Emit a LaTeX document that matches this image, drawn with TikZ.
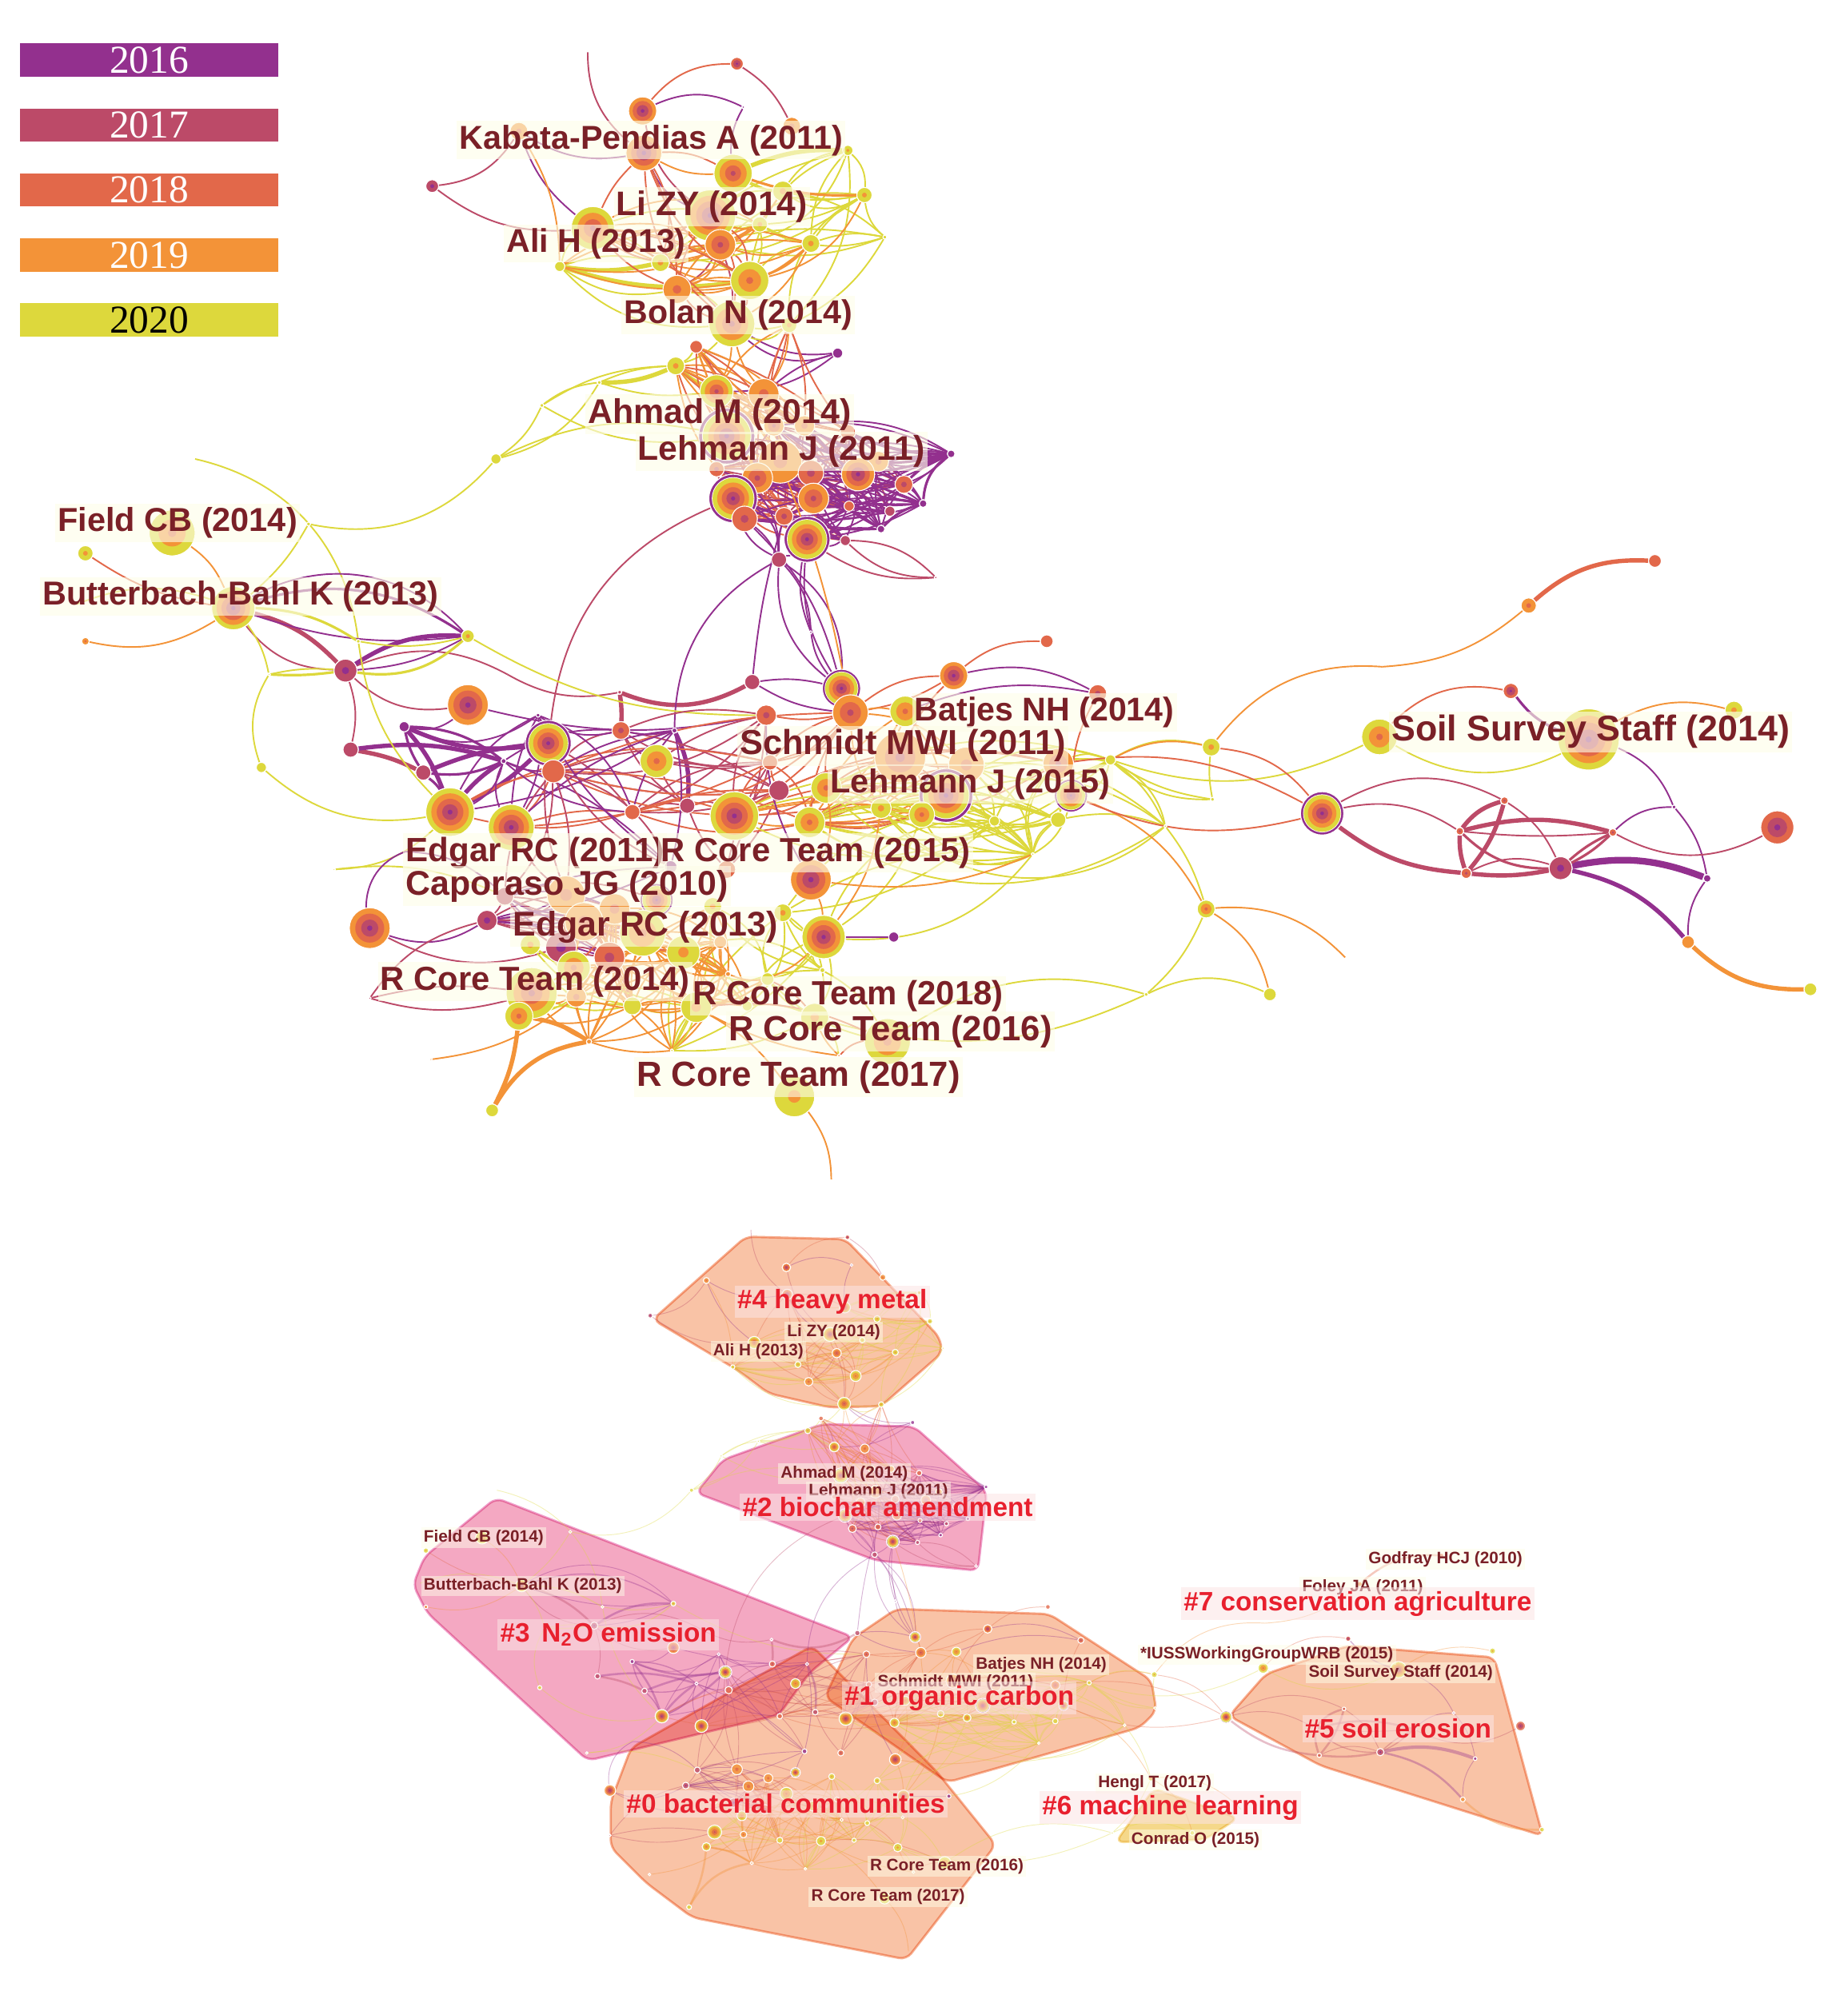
\documentclass[tikz,border=0pt]{standalone}
\usepackage{fontspec}
\setmainfont{Liberation Sans}
\newfontfamily\legfont{Liberation Serif}
\usetikzlibrary{shapes.geometric}
\pgfdeclarelayer{hull}\pgfdeclarelayer{edge}\pgfsetlayers{hull,edge,main}
\definecolor{cyA}{HTML}{93308E}
\definecolor{cyB}{HTML}{BC4A68}
\definecolor{cyC}{HTML}{E2684A}
\definecolor{cyD}{HTML}{F39338}
\definecolor{cyE}{HTML}{DDD83C}
\definecolor{labbg}{HTML}{FDFDE8}
\definecolor{labtx}{HTML}{7A2027}
\definecolor{redtx}{HTML}{E8202E}
\definecolor{redbg}{HTML}{FBE4E4}
\definecolor{hullO}{HTML}{F9C3A6}
\definecolor{hullOs}{HTML}{F7B294}
\definecolor{hullP}{HTML}{F4A8C2}
\definecolor{hullPs}{HTML}{F0A2CC}
\definecolor{hullY}{HTML}{F5D88A}
\definecolor{hullYs}{HTML}{F8E0A0}
\tikzset{
 citenode/.style={circle,draw=white,line width=.35pt,inner sep=0pt},
 ringop/.style={},
 ln/.style={line width=.6pt},
 lm/.style={line width=1pt},
 lk/.style={line width=1.7pt},
 lh/.style={line width=2.6pt},
 A/.style={draw=cyA},B/.style={draw=cyB},C/.style={draw=cyC},D/.style={draw=cyD},E/.style={draw=cyE},
 toplab/.style={anchor=west,fill=labbg,fill opacity=.62,text opacity=1,text=labtx,inner xsep=1pt,inner ysep=1.5pt},
 sublab/.style={anchor=west,fill=labbg,fill opacity=.5,text opacity=1,text=labtx,inner xsep=1pt,inner ysep=1pt,font=\fontsize{6.5}{8}\selectfont\bfseries},
 clab/.style={anchor=west,fill=redbg,fill opacity=.55,text opacity=1,text=redtx,inner xsep=1pt,inner ysep=1.5pt,font=\fontsize{10.45}{12}\selectfont\bfseries},
 legbar/.style={minimum width=101.5pt,minimum height=13pt,inner sep=0pt,font=\legfont\fontsize{15.5}{16}\selectfont,text=white},
 hullshape/.style={rounded corners=3pt,line width=.9pt,blend mode=multiply},
}
\def\pf{t}\def\sx{1}\def\ox{0}\def\sy{1}\def\oy{0}\def\rs{1}\def\ra{0}
% name x y r outer inner
\newcommand{\cn}[6]{%
 \pgfmathsetmacro{\rr}{(#4*\rs+\ra)*.5}%
 \pgfmathsetmacro{\xx}{\sx*#2+\ox}%
 \pgfmathsetmacro{\yy}{\sy*#3+\oy}%
 \ifnum#5=6\relax
  \fill[ringop,cyA] (\xx,\yy) circle ({\rr pt});
  \fill[white] (\xx,\yy) circle ({\rr*.88 pt});
  \foreach \lv in {5,...,1}{\pgfmathsetmacro{\rd}{\rr*.85*(\lv-.55)/4.45}\fill[ringop,cy\ifcase\lv\or A\or B\or C\or D\or E\fi] (\xx,\yy) circle ({\rd pt});}%
 \else
  \foreach \lv in {#5,...,#6}{\pgfmathsetmacro{\rd}{\rr*(\lv-#6+.45)/(#5-#6+.45)}\fill[ringop,cy\ifcase\lv\or A\or B\or C\or D\or E\fi] (\xx,\yy) circle ({\rd pt});}%
 \fi
 \node[citenode,minimum size={2*\rr pt}] (\pf#1) at (\xx,\yy) {};%
}
\newcommand{\fe}[3]{\pgfmathsetmacro{\xx}{\sx*#2+\ox}\pgfmathsetmacro{\yy}{\sy*#3+\oy}\coordinate (\pf#1) at (\xx,\yy);}
\newcommand{\edges}[2]{\foreach \a/\b/\c in {#2}{\draw[#1] (\pf\a) to[bend left=\c] (\pf\b);}}
\newcommand{\hub}[4]{\foreach \a [count=\ii] in {#2}{\foreach \b [count=\jj] in {#3}{\pgfmathsetmacro{\bd}{#4*(mod(\ii+\jj,2)*2-1)*(1+.5*mod(\ii*\jj,3))}\draw[#1] (\pf\a) to[bend left=\bd] (\pf\b);}}}
\newcommand{\tl}[5]{\node[toplab,font=\fontsize{#4}{16}\selectfont\bfseries] (#1) at (#2,#3) {#5};}
\newcommand{\allnodes}{%
\cn{a1}{578}{50}{5}{3}{1}\cn{a2}{504}{87}{11}{4}{1}\cn{a3}{505}{120}{14}{4}{1}\cn{a4}{407}{103}{7}{4}{3}\cn{a5}{621}{99}{7}{4}{3}\cn{a6}{339}{146}{5}{2}{1}
\cn{a7}{575}{136}{15}{5}{2}\cn{a8}{678}{153}{6}{5}{4}\cn{a9}{665}{118}{4}{5}{4}\cn{a10}{614}{150}{8}{5}{4}\cn{a11}{557}{169}{20}{5}{1}\cn{a12}{465}{179}{17}{5}{2}
\cn{a13}{596}{176}{6}{5}{4}\cn{a14}{565}{192}{12}{4}{2}\cn{a15}{636}{191}{7}{5}{4}\cn{a16}{694}{186}{1.5}{5}{5}\cn{a17}{439}{209}{4}{5}{5}\cn{a18}{518}{206}{7}{5}{4}
\cn{a19}{588}{220}{15}{5}{3}\cn{a20}{531}{227}{11}{4}{3}\cn{a21}{574}{254}{18}{5}{2}\cn{a22}{619}{255}{6}{5}{4}\cn{a23}{546}{272}{5}{3}{3}\cn{a24}{657}{277}{4}{1}{1}
\cn{a25}{530}{287}{7}{5}{4}\cn{a26}{562}{307}{13}{5}{2}\cn{a27}{599}{309}{12}{4}{3}\cn{a28}{470}{300}{1.5}{5}{5}\cn{a29}{425}{318}{1.5}{5}{5}\cn{a30}{389}{360}{4}{5}{5}\cn{a31}{242}{411}{1.5}{5}{5}
\cn{a32}{570}{342}{22}{6}{1}\cn{a33}{607}{334}{8}{4}{2}\cn{a34}{631}{334}{8}{4}{3}\cn{a35}{665}{339}{6}{3}{3}\cn{a36}{612}{362}{17}{4}{3}\cn{a37}{689}{362}{8}{4}{3}\cn{a38}{562}{368}{6}{3}{2}
\cn{a39}{594}{375}{12}{4}{2}\cn{a40}{636}{371}{10}{3}{2}\cn{a41}{673}{372}{13}{4}{1}\cn{a42}{709}{380}{7}{3}{2}\cn{a43}{746}{356}{3}{1}{1}\cn{a44}{575}{391}{19}{6}{1}\cn{a45}{638}{391}{12}{4}{2}
\cn{a46}{666}{397}{4}{3}{3}\cn{a47}{698}{401}{4}{2}{2}\cn{a48}{724}{395}{3}{1}{1}\cn{a49}{584}{407}{10}{3}{2}\cn{a50}{615}{405}{7}{3}{2}\cn{a51}{633}{423}{18}{6}{1}\cn{a52}{663}{424}{4}{2}{2}
\cn{a53}{611}{439}{6}{2}{2}\cn{a54}{734}{453}{1.2}{2}{2}\cn{a55}{691}{415}{3}{1}{1}\cn{a57}{583}{84}{1.2}{1}{1}
\fe{a56}{461}{41}
\cn{f1}{135}{418}{18}{5}{3}\cn{f2}{67}{434}{6}{5}{4}\fe{f3}{153}{360}
\cn{m1}{183}{477}{17}{5}{1}\cn{m2}{67}{503}{3}{4}{3}\cn{m3}{367}{499}{5}{5}{4}\cn{m4}{271}{526}{9}{2}{1}\cn{m5}{281}{503}{1.5}{5}{5}\cn{m6}{211}{529}{1}{5}{5}\cn{m7}{367}{553}{16}{4}{1}
\cn{m8}{317}{570}{4}{1}{1}\cn{m9}{275}{588}{6}{2}{2}\cn{m10}{205}{602}{4}{5}{5}\cn{m11}{430}{583}{18}{6}{1}\cn{m12}{487}{573}{7}{3}{2}\cn{m13}{486}{543}{1.5}{2}{2}\cn{m14}{590}{535}{6}{2}{2}
\cn{m15}{515}{597}{13}{5}{3}\cn{m16}{434}{605}{9}{3}{3}\cn{m17}{395}{597}{2}{1}{1}\cn{m18}{332}{606}{6}{2}{2}\cn{m19}{422}{561}{1.5}{1}{1}\cn{m20}{529}{573}{2}{1}{1}\cn{m21}{601}{561}{8}{3}{2}
\cn{m22}{660}{540}{15}{6}{1}\cn{m23}{667}{559}{14}{4}{2}\cn{m24}{710}{558}{12}{5}{3}\cn{m25}{636}{496}{1.2}{1}{1}\cn{m26}{604}{598}{6}{3}{3}\cn{m27}{611}{620}{8}{2}{2}\cn{m28}{648}{618}{12}{5}{3}
\cn{m29}{539}{632}{6}{2}{2}\cn{m30}{496}{637}{6}{3}{3}\cn{m31}{353}{637}{19}{5}{1}\cn{m32}{401}{649}{18}{5}{1}\cn{m33}{576}{640}{19}{5}{1}\cn{m34}{635}{645}{12}{5}{3}\cn{m35}{691}{634}{8}{5}{4}
\cn{m36}{706}{594}{20}{4}{2}\cn{m37}{262}{682}{1}{5}{5}\cn{m38}{526}{680}{5}{1}{1}\cn{m39}{570}{682}{7}{3}{2}\cn{m40}{636}{690}{16}{4}{1}\cn{m41}{444}{702}{15}{4}{3}\cn{m42}{396}{703}{7}{2}{2}
\cn{m43}{515}{706}{13}{6}{1}\cn{m44}{482}{713}{12}{4}{3}\cn{m45}{559}{711}{7}{5}{4}\cn{m46}{614}{716}{7}{5}{4}\cn{m47}{290}{728}{16}{4}{1}\cn{m48}{382}{722}{8}{2}{1}\cn{m49}{458}{723}{15}{4}{3}
\cn{m50}{646}{735}{17}{5}{1}\cn{m51}{701}{735}{4}{1}{1}\cn{m52}{504}{732}{18}{5}{3}\cn{m53}{416}{741}{8}{5}{4}\cn{m54}{440}{743}{12}{2}{1}\cn{m55}{478}{751}{12}{3}{2}\cn{m56}{536}{747}{13}{5}{4}
\cn{m57}{565}{739}{5}{4}{4}\cn{m58}{450}{759}{13}{5}{3}\cn{m59}{645}{761}{2}{5}{5}\cn{m60}{602}{768}{5}{5}{5}\cn{m61}{417}{779}{20}{5}{2}\cn{m62}{452}{782}{8}{4}{3}\cn{m63}{407}{797}{11}{5}{3}
\cn{m64}{496}{789}{7}{5}{5}\cn{m65}{546}{790}{12}{5}{4}\cn{m66}{639}{798}{11}{5}{4}\cn{m67}{696}{817}{18}{5}{3}\cn{m68}{462}{817}{2}{4}{4}\cn{m69}{527}{824}{1.2}{5}{5}\cn{m70}{658}{828}{1.2}{4}{4}
\cn{m71}{338}{831}{1}{4}{4}\cn{m72}{290}{783}{1}{2}{2}\cn{m73}{386}{871}{5}{5}{5}\cn{m74}{623}{860}{16}{5}{4}\fe{m75}{652}{925}\cn{m76}{571}{764}{2}{4}{4}\cn{m77}{586}{789}{4}{5}{5}
\fe{m79}{60}{474}\fe{m80}{398}{529}\fe{m81}{318}{668}
\cn{r1}{1298}{440}{5}{3}{3}\cn{r2}{1199}{475}{6}{4}{3}\cn{r3}{821}{503}{5}{3}{3}\cn{r4}{748}{530}{11}{4}{1}\cn{r5}{861}{544}{7}{3}{2}\cn{r6}{950}{586}{7}{5}{4}\cn{r7}{1082}{578}{14}{5}{3}
\cn{r8}{1185}{542}{6}{3}{1}\cn{r9}{1360}{557}{7}{5}{4}\cn{r10}{1246}{580}{24}{5}{1}\cn{r11}{871}{596}{4}{5}{5}\cn{r12}{830}{599}{12}{4}{2}\cn{r13}{758}{600}{14}{4}{3}\cn{r14}{840}{624}{13}{6}{1}
\cn{r15}{742}{624}{21}{6}{1}\cn{r16}{723}{639}{10}{5}{3}\cn{r17}{830}{643}{6}{5}{5}\cn{r18}{780}{644}{4}{5}{5}\cn{r19}{951}{627}{1.5}{5}{5}\cn{r20}{810}{670}{1.2}{5}{5}\cn{r21}{914}{648}{1.2}{5}{5}
\cn{r22}{1037}{638}{17}{6}{1}\cn{r23}{1180}{628}{3}{3}{2}\cn{r24}{1145}{652}{3}{3}{2}\cn{r25}{1265}{653}{3}{3}{2}\cn{r26}{1150}{685}{4}{3}{2}\cn{r27}{1224}{681}{9}{2}{1}\cn{r28}{1313}{633}{1.5}{1}{1}
\cn{r29}{1339}{689}{3}{1}{1}\cn{r30}{1394}{649}{13}{3}{1}\cn{r31}{946}{713}{7}{5}{3}\cn{r32}{899}{780}{1.5}{5}{5}\cn{r33}{996}{780}{5}{5}{5}\fe{r34}{1055}{751}\cn{r35}{1324}{739}{5}{4}{4}\cn{r36}{1420}{776}{5}{5}{5}
\fe{r37}{1084}{523}
}
\newcommand{\alledges}{%
% top cluster
\edges{B,ln}{a56/a3/-25,a1/a5/15,a6/a4/-25,a6/a12/-20,a2/a11/-20,a20/a14/-15,a14/a21/10}
\edges{C,ln}{a2/a1/25,a3/a12/-10,a3/a7/15,a14/a18/-15,a14/a19/15,a11/a14/-15,a19/a21/15,a20/a21/-15}
\edges{A,ln}{a2/a57/25,a57/a7/-15,a4/a12/-15,a3/a4/20,a3/a11/-20,a21/a24/-18,a21/a24/-30,a24/a26/18,a24/a27/-12,a23/a26/15}
\edges{E,ln}{a8/a9/-25,a8/a7/18,a8/a13/12,a8/a15/-12,a8/a10/12,a9/a15/-20,a16/a15/-15,a16/a8/20,a16/a13/22,a15/a13/12,a15/a19/-18,a13/a19/15,a17/a18/15,a17/a20/-22,a17/a12/18,a18/a19/18,a12/a18/12,a12/a13/18,a11/a13/-18,a11/a10/18,a18/a13/18,a20/a21/20,a17/a21/-25,a9/a19/-30,a10/a7/12,a22/a21/10,a25/a21/-15,a25/a23/-15,a21/a22/-35}
\edges{E,ln}{a30/a29/-15,a30/a28/-22,a29/a28/15,a29/a32/-18,a30/a32/18,a28/a26/-12,a28/a25/10,a29/a25/15,a31/a30/-30,f3/m5/35,a31/m1/10}
\hub{E,ln}{a9,a8,a16}{a10,a14,a18,a22}{16}
\edges{D,ln}{a3/a7/-15,a4/a17/15,a12/a14/15,a19/a8/-25,a15/a14/20,a15/a21/15,a22/a26/-15,a22/a27/15,a19/a20/15,a13/a20/10,a10/a14/15,a21/a27/-12,a21/a26/12,a25/a27/20}
\edges{D,lm}{a7/a8/-10,a15/a19/12}
\edges{E,lk}{a7/a9/12,a17/a18/-10,a17/a19/-12,a28/a25/-12,a25/a26/-8}
\hub{D,ln}{a17,a12,a18,a20}{a13,a14,a19,a15}{14}
\hub{C,ln}{a11,a3,a12}{a18,a19,a20,a21}{12}
\hub{C,ln}{a25,a23,a26,a27,a22}{a33,a34,a35,a32,a39}{8}
\hub{D,ln}{a25,a26,a27,a23}{a38,a36,a45,a33,a34}{8}
\hub{B,ln}{a33,a34,a35,a32,a38,a39}{a45,a40,a41,a42,a49,a50,a46,a47}{10}
\hub{C,ln}{a44,a49,a39,a38,a36}{a51,a45,a52,a40,a46,a50}{12}
\hub{A,ln}{a43,a48,a55}{a36,a37,a39,a40,a41,a42,a45,a50,a51,a44,a34,a35,a33}{10}
\hub{A,ln}{a47,a46,a52,a42}{a39,a40,a41,a44,a49,a50,a51,a36}{10}
\edges{A,lm}{a43/a48/-25,a43/a42/-12,a34/a43/-20,a35/a43/-12,a48/a55/-15,a48/a51/-25,a33/a43/-22,a36/a43/-15}
\edges{A,ln}{a53/a44/20,a53/a49/-12,a53/a50/8,a53/a51/-8,a52/a51/15,a38/a53/35,a44/a53/30}
\edges{B,ln}{a52/a54/-22,a52/a54/22,a51/a54/-18}
\edges{D,ln}{a32/a44/40,a32/a49/35,a26/a44/40}
% far left and middle
\edges{B,ln}{a44/m11/-30,m4/m80/25,m80/m13/-20,m4/m7/-25,m4/m9/15,m1/m4/-25,m30/m11/-10,m12/m16/-20,m15/m12/15}
\edges{B,lk}{m13/m12/5,m13/m14/-25,m1/m4/15,m9/m18/8}
\edges{A,ln}{m20/a53/30,m25/a53/-20,a53/m22/-28,a53/m22/28,a49/m22/15,a51/m25/-15,m25/m22/-15,a51/m22/-18,m1/m3/38,m1/m3/-12,m8/m7/-25,m7/m21/-12,m19/m8/30,m19/m32/-12,m22/m14/-10,m14/a50/5,m14/m23/-12,m4/m3/-12}
\edges{A,lk}{m4/m3/18,m8/m11/-15,m8/m31/10,m9/m17/12,m18/m11/8,m31/m11/-8,m31/m17/8,m20/m29/15}
\edges{A,lm}{m1/m3/25,m8/m18/-10,m18/m31/10,m8/m17/18,m18/m17/-15}
\edges{D,ln}{f1/m1/15,m2/m1/-22,a36/m23/5}
\edges{C,ln}{f2/m1/-12,m21/m23/-10,m22/m23/12,m23/r4/-10}
\edges{E,ln}{m1/m6/12,m6/m10/-25,m10/m31/-25,m4/m6/-8,m5/m3/-12,m5/m31/-18,m3/m21/-15,m1/m79/-20,m37/m31/-20,m37/m42/15}
\edges{E,lm}{m1/m5/15,m6/m4/-5,m4/m3/-25}
\hub{B,ln}{m21,m26,m27,m29}{m12,m16,m15,m30,m33,m39}{10}
\hub{C,ln}{m26,m30,m16}{m33,m34,m27,m23,m31,m32}{10}
\hub{A,ln}{m17,m19,m20}{m30,m31,m16,m12,m32,m38}{12}
\hub{B,ln}{m11,m16}{m38,m42,m41}{12}
\hub{C,ln}{m36,m23}{m26,m34,m33,m28}{10}
% right-centre cluster
\hub{D,ln}{r13,m35,m24}{m36,m34,m28,r15,m23}{10}
\hub{D,ln}{r16,m34,m35}{m28,r15,m33,r13,m36}{12}
\hub{C,ln}{m33,m34,m36}{m28,r12,r13,r15}{10}
\hub{E,ln}{r11,r20,r17,r18}{m28,m34,m35,r13,r15,r16,r12,r14}{14}
\hub{E,ln}{r20,r18,r16}{m34,m35,m46,m50,m33,r17}{18}
\hub{E,ln}{r21,r20}{r16,m35,r13,m34,r12}{22}
\edges{E,ln}{r7/r11/22,r6/r11/-22,r7/r10/-28,r6/r19/-8,r11/r19/-22,r11/r19/-12,r11/r21/15,r21/r31/10,r21/r17/-15,r31/r32/12,r32/r33/25,m67/r32/25,r20/r17/25,m66/r32/-20,r11/r14/-12}
\edges{D,ln}{r11/r6/20,r6/r37/28,r37/r2/-18,r31/r33/22,r31/r34/25,r14/r31/20,r10/r9/22,m40/m28/-18,m50/m35/-15,m40/r20/-15}
\edges{C,ln}{r4/r3/20,r6/r22/22,r7/r8/28,r12/r22/18,r14/r22/-18,r5/r14/-12,m36/r4/10,m23/r4/18}
\edges{C,lk}{r2/r1/22}
\edges{A,ln}{r4/r5/20,m24/r5/15,r10/r28/22,r28/r29/15,r28/r25/-22,r29/r35/-18,m50/m51/0}
\edges{A,lm}{r8/r10/-15}
\edges{A,lk}{r27/r35/18}
\edges{A,lh}{r27/r29/16}
\edges{D,lk}{r35/r36/-22}
\edges{B,ln}{r22/r23/28,r22/r24/22,r23/r27/16,r25/r30/-28,r24/r25/-5,r27/r26/-22}
\edges{B,lm}{r25/r27/8,r25/r27/-8,r24/r27/-22}
\edges{B,lk}{r22/r26/-16,r23/r24/-18,r23/r26/12,r24/r26/-10,r24/r25/15,r26/r27/-8}
% lower cluster
\edges{A,ln}{m47/m81/35,m47/m48/-25,m48/m41/-10,m81/m42/20,m38/m43/-8,m40/m21/15}
\edges{B,ln}{m72/m61/-15,m72/m61/10,m47/m54/-22,m48/m72/-20,m48/m42/-10,m41/m32/10}
\hub{B,ln}{m48,m42,m54}{m41,m44,m49,m55,m43,m52}{12}
\hub{A,ln}{m48,m42}{m44,m49,m38,m55}{8}
\hub{C,ln}{m41,m44,m49}{m52,m55,m58,m64,m56}{10}
\hub{E,ln}{m60,m59,m69,m77}{m50,m46,m66,m56,m45,m65}{14}
\hub{E,ln}{m64,m62,m58}{m65,m53,m63,m61}{10}
\hub{D,ln}{m68,m76,m62,m64,m57}{m44,m49,m52,m55,m56,m58,m65,m45}{10}
\hub{D,ln}{m69,m76,m77,m65}{m52,m56,m64,m55,m57,m60}{14}
\hub{D,ln}{m61,m63}{m62,m64,m68}{12}
\edges{D,lk}{m73/m63/-10,m73/m68/25,m63/m68/12}
\edges{D,ln}{m71/m62/-15,m74/m75/18,m65/m74/12,m66/m70/-10,m40/m50/10,m50/m60/10,m68/m69/-12,m65/m70/-10}
\edges{C,ln}{m70/m67/18,m65/m67/15,m60/m66/12}
\edges{E,ln}{m50/m66/22,m65/m69/15,m66/m70/18,m67/m59/-15,m59/m46/12,m46/m50/-14,m60/m67/-15}
}
\begin{document}
\begin{tikzpicture}[x=.5pt,y=-.5pt]
\useasboundingbox (0,0) rectangle (1449,1568);
% legend
\node[legbar,fill=cyA] (ly1) at (117,47) {2016};
\node[legbar,fill=cyB] (ly2) at (117,98) {2017};
\node[legbar,fill=cyC] (ly3) at (117,149) {2018};
\node[legbar,fill=cyD] (ly4) at (117,200) {2019};
\node[legbar,fill=cyE,text=black] (ly5) at (117,251) {2020};
% upper network
\allnodes
\begin{pgfonlayer}{edge}\alledges\end{pgfonlayer}
% upper labels
\tl{l1}{358}{110}{12.95}{Kabata-Pendias A (2011)}
\tl{l2}{481}{162}{13.35}{Li ZY (2014)}
\tl{l3}{395}{191}{12.9}{Ali H (2013)}
\tl{l4}{487}{247}{12.9}{Bolan N (2014)}
\tl{l5}{459}{325}{13.45}{Ahmad M (2014)}
\tl{l6}{498}{354}{13.4}{Lehmann J (2011)}
\tl{l7}{43}{410}{13}{Field CB (2014)}
\tl{l8}{31}{468}{13}{Butterbach-Bahl K (2013)}
\tl{l9}{715}{559}{12.9}{Batjes NH (2014)}
\tl{l10}{578}{585}{13.6}{Schmidt MWI (2011)}
\tl{l11}{649}{615}{13}{Lehmann J (2015)}
\tl{l12}{1089}{574}{14.05}{Soil Survey Staff (2014)}
\tl{l13}{316}{669}{13.2}{Edgar RC (2011)}
\tl{l14}{516}{669}{13.1}{R Core Team (2015)}
\tl{l15}{316}{695}{13.45}{Caporaso JG (2010)}
\tl{l16}{400}{727}{13.45}{Edgar RC (2013)}
\tl{l17}{296}{770}{13.1}{R Core Team (2014)}
\tl{l18}{541}{781}{13.15}{R Core Team (2018)}
\tl{l19}{569}{809}{13.7}{R Core Team (2016)}
\tl{l20}{497}{845}{13.7}{R Core Team (2017)}
% hulls
\begin{pgfonlayer}{hull}
\draw[hullshape,draw=hullPs,fill=hullP] (645,1117)--(717,1119)--(774,1170)--(767,1232)--(687,1224)--(546,1171)--(567,1145)--cycle;
\draw[hullshape,draw=hullPs,fill=hullP] (389,1175)--(669,1284)--(635,1312)--(611,1345)--(461,1381)--(335,1265)--(324,1243)--(333,1221)--cycle;
\draw[hullshape,draw=hullOs,fill=hullO] (585,970)--(663,972)--(737,1049)--(739,1061)--(691,1103)--(651,1104)--(603,1093)--(579,1075)--(512,1035)--cycle;
\draw[hullshape,draw=hullOs,fill=hullO] (703,1262)--(823,1266)--(903,1318)--(907,1342)--(894,1355)--(743,1398)--(647,1331)--(669,1285)--cycle;
\draw[hullshape,draw=hullOs,fill=hullO] (495,1371)--(637,1291)--(735,1390)--(781,1447)--(711,1537)--(543,1504)--(507,1477)--(479,1449)--(479,1413)--cycle;
\draw[hullshape,draw=hullOs,fill=hullO] (1057,1291)--(1172,1300)--(1210,1440)--(1036,1385)--(964,1346)--(993,1313)--cycle;
\draw[hullshape,draw=hullYs,fill=hullY] (905,1403)--(971,1426)--(945,1443)--(875,1445)--cycle;
\end{pgfonlayer}
% lower network
\def\pf{b}\def\sx{.647}\def\ox{290.7}\def\sy{.64}\def\oy{938.5}\def\rs{.24}\def\ra{.7}
\begin{scope}[ringop/.style={fill opacity=.8},ln/.style={line width=.3pt,opacity=.36},lm/.style={line width=.45pt,opacity=.36},lk/.style={line width=.8pt,opacity=.36},lh/.style={line width=1.3pt,opacity=.36}]
\allnodes
\begin{pgfonlayer}{edge}\alledges\end{pgfonlayer}
\end{scope}
% lower labels
\node[sublab] (s1) at (615,1045) {Li ZY (2014)};
\node[sublab] (s2) at (557,1060) {Ali H (2013)};
\node[sublab] (s3) at (610,1156) {Ahmad M (2014)};
\node[sublab] (s4) at (632,1170) {Lehmann J (2011)};
\node[sublab] (s5) at (330,1206) {Field CB (2014)};
\node[sublab] (s6) at (330,1244) {Butterbach-Bahl K (2013)};
\node[sublab] (s7) at (1071,1223) {Godfray HCJ (2010)};
\node[sublab] (s8) at (1019,1245) {Foley JA (2011)};
\node[sublab] (s9) at (892,1298) {*IUSSWorkingGroupWRB (2015)};
\node[sublab] (s10) at (763,1306) {Batjes NH (2014)};
\node[sublab] (s11) at (1024,1312) {Soil Survey Staff (2014)};
\node[sublab] (s12) at (686,1320) {Schmidt MWI (2011)};
\node[sublab] (s13) at (859,1399) {Hengl T (2017)};
\node[sublab] (s14) at (885,1443) {Conrad O (2015)};
\node[sublab] (s15) at (680,1464) {R Core Team (2016)};
\node[sublab] (s16) at (634,1488) {R Core Team (2017)};
\node[clab] (c4) at (576,1021) {\#4 heavy metal};
\node[clab] (c2) at (580,1182) {\#2 biochar amendment};
\node[clab] (c3) at (390,1282) {\#3 \,N\textsubscript{2}O emission};
\node[clab] (c1) at (660,1332) {\#1 organic carbon};
\node[clab] (c0) at (489,1415) {\#0 bacterial communities};
\node[clab] (c5) at (1021,1356) {\#5 soil erosion};
\node[clab] (c6) at (815,1418) {\#6 machine learning};
\node[clab] (c7) at (926,1258) {\#7 conservation agriculture};
\end{tikzpicture}
\end{document}
